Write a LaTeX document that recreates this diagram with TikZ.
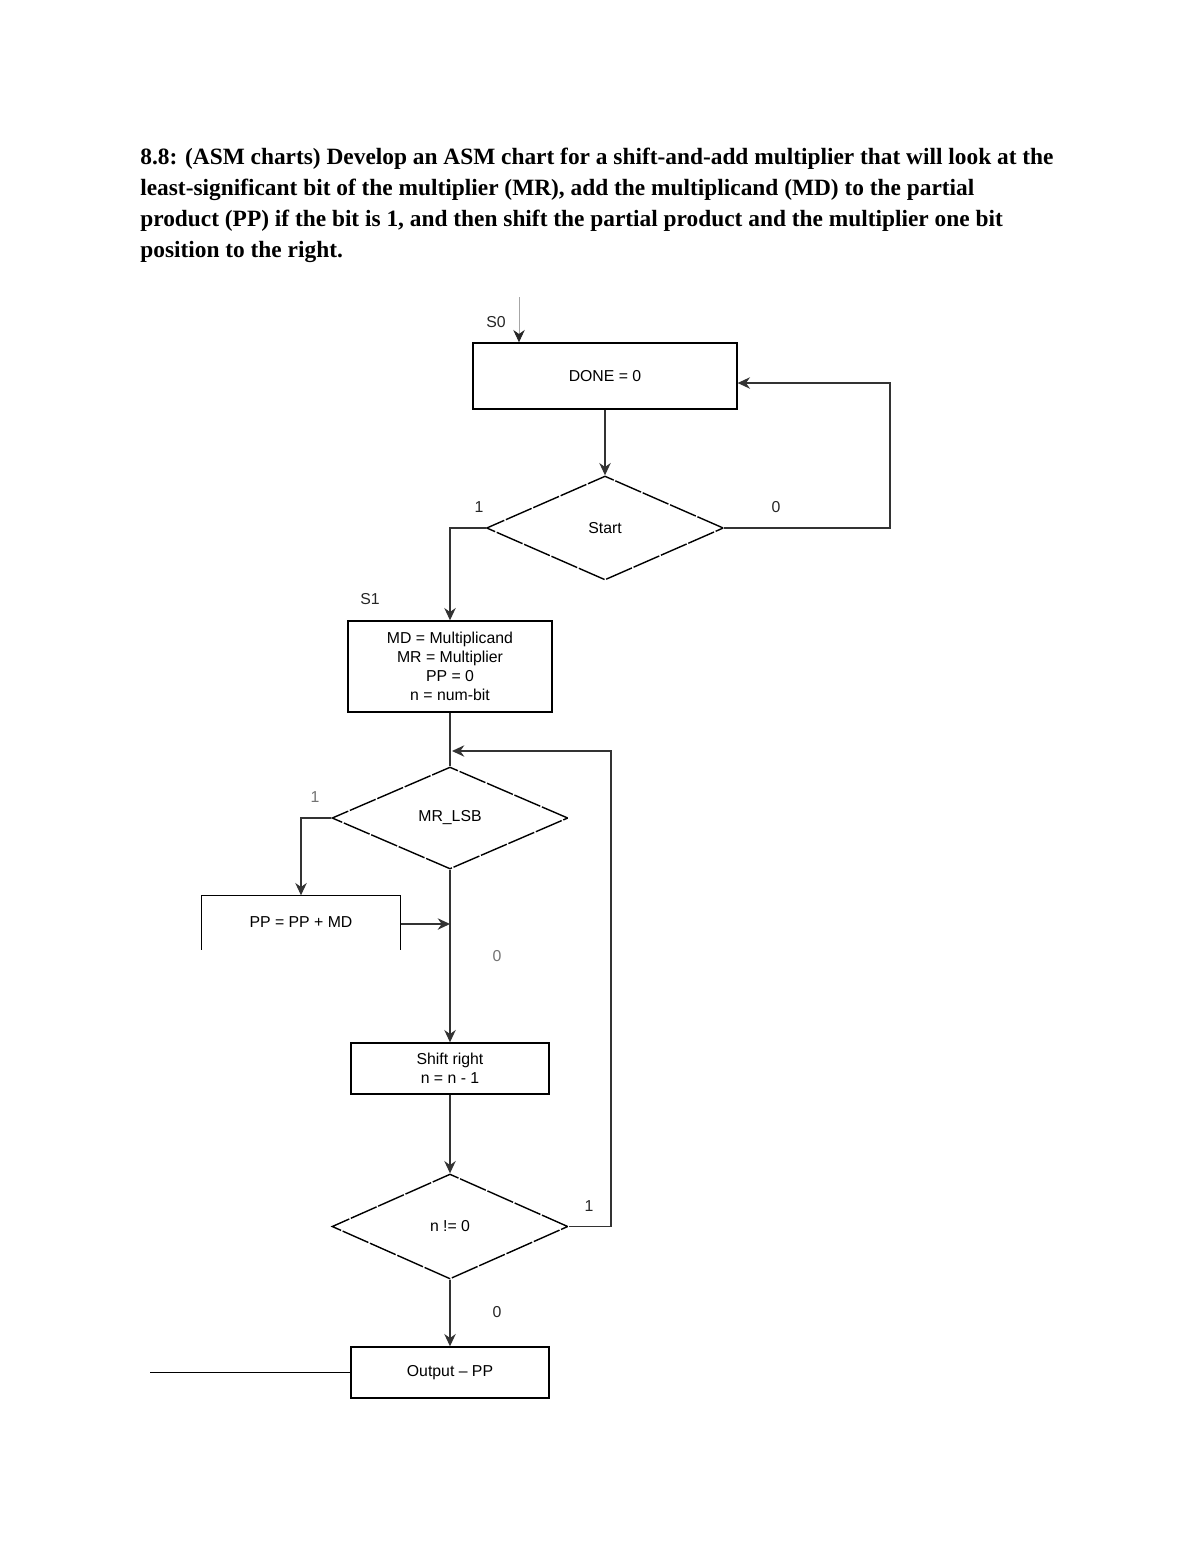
\documentclass[tikz,border=0pt]{standalone}
\usepackage{fontspec}
\setmainfont{Liberation Serif}
\setsansfont{Liberation Sans}
\usetikzlibrary{calc}
\usetikzlibrary{arrows.meta}
\usetikzlibrary{shapes.geometric}
\usetikzlibrary{positioning}

\tikzset{
  flow/.style={-{Stealth[length=7pt,width=6.5pt]}, line width=0.75pt, draw=black!80},
  wire/.style={line width=0.75pt, draw=black!80},
  statebox/.style={draw, line width=0.8pt, rectangle, inner sep=0pt, align=center,
    font=\sffamily\fontsize{9}{10.8}\selectfont},
  decision/.style={draw, line width=0.8pt, diamond, inner sep=0pt, aspect=2.3,
    dash pattern=on 16pt off 1pt, font=\sffamily\fontsize{9}{10.8}\selectfont},
  lbl/.style={font=\sffamily\fontsize{9}{10.8}\selectfont, text=black!85},
  pale/.style={lbl, text=black!55}
}

\begin{document}
\begin{tikzpicture}[x=0.02cm, y=-0.02cm]
  \useasboundingbox[fill=white] (0,0) rectangle (1200,1553);

  % question text
  \node (title)[anchor=north west, align=left, inner sep=0pt,
    font=\bfseries\fontsize{13.3}{17.6}\selectfont] at (140,147.5)
    {8.8: (ASM charts) Develop an ASM chart for a shift-and-add multiplier that will look at the\\
     least-significant bit of the multiplier (MR), add the multiplicand (MD) to the partial\\
     product (PP) if the bit is 1, and then shift the partial product and the multiplier one bit\\
     position to the right.};

  % state S0
  \coordinate (entry) at (519, 297);
  \node (done)[statebox, minimum width=5.28cm, minimum height=1.32cm] at (605, 376) {DONE = 0};
  \node (start)[decision, minimum width=4.74cm, minimum height=2.08cm] at (605, 528) {Start};
  \node (s0)[lbl] at (496, 322) {S0};
  \coordinate (back0) at (890, 383);

  % state S1
  \node (init)[statebox, minimum width=4.08cm, minimum height=1.82cm] at (450, 666.5)
    {MD = Multiplicand\\MR = Multiplier\\PP = 0\\n = num-bit};
  \node (s1)[lbl] at (370, 599) {S1};
  \node (mr)[decision, minimum width=4.72cm, minimum height=2.04cm] at (450, 818) {MR\_LSB};
  \node (add)[statebox, draw=none, minimum width=3.96cm, minimum height=1.06cm] at (301, 922.5)
    {PP = PP + MD};
  \node (shift)[statebox, minimum width=3.96cm, minimum height=1.02cm] at (450, 1068.5)
    {Shift right\\n = n - 1};
  \node (nz)[decision, minimum width=4.72cm, minimum height=2.1cm] at (450, 1226.5) {n != 0};
  \node (out)[statebox, minimum width=3.96cm, minimum height=1.02cm] at (450, 1372.5)
    {Output -- PP};
  \coordinate (back1) at (611, 751);
  \coordinate (tail) at (150, 1372.5);

  % open box
  \draw[line width=0.8pt] (add.south west) -- (add.north west) -- (add.north east) -- (add.south east);

  % branch labels
  \node (l1a)[lbl] at (479, 507) {1};
  \node (l0a)[lbl] at (776, 507) {0};
  \node (l1b)[pale] at (315, 797) {1};
  \node (l0b)[pale] at (497, 956) {0};
  \node (l1c)[lbl] at (589, 1206) {1};
  \node (l0c)[lbl] at (497, 1312) {0};

  % connectors
  \draw[-{Stealth[length=7pt,width=6.5pt,color=black!85]}, line width=0.5pt, draw=black!35]
    (entry) -- (entry |- done.north);
  \draw[flow] (done) -- (start);
  \draw[flow] (start.east) -| (back0) -- (back0 -| done.east);
  \draw[flow] (start.west) -| (init.north);
  \draw[wire] (init.south) -- (mr.north);
  \draw[flow] (nz.east) -| (back1) -- ($(back1 -| mr.north)+(2,0)$);
  \draw[flow] (mr.west) -| (add.north);
  \draw[flow] ($(add.east)+(0,1.5)$) -- ($(add.east -| mr.south)+(0,1.5)$);
  \draw[flow] (mr.south) -- (shift.north);
  \draw[flow] (shift.south) -- (nz.north);
  \draw[flow] (nz.south) -- (out.north);
  \draw[line width=0.8pt] (tail) -- (out.west);
\end{tikzpicture}
\end{document}
